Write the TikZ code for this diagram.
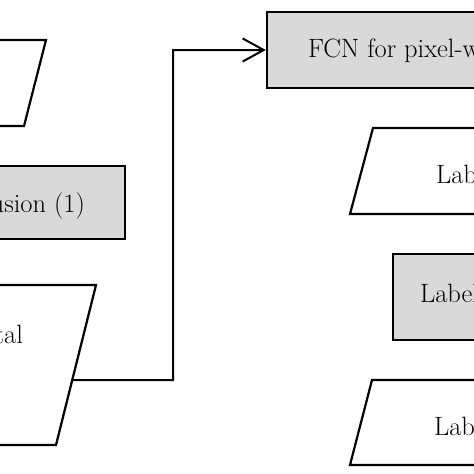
\documentclass[tikz,border=0pt]{standalone}
\usepackage{fontspec}
\setmainfont{Latin Modern Roman}
\usetikzlibrary{arrows.meta,calc}
\definecolor{boxgray}{RGB}{217,217,217}
\begin{document}
\begin{tikzpicture}[x=1pt,y=-1pt,
  txt/.style={font=\fontsize{26.5}{31}\selectfont, inner sep=0pt, outer sep=0pt},
  graybox/.style={rectangle, fill=boxgray, draw=black, line width=2.4pt, inner sep=0pt},
  para/.style={draw=black, fill=white, line width=2.2pt, line join=miter},
  conn/.style={draw=black, line width=2pt, -{Straight Barb[length=21pt,width=23pt]}}]
\useasboundingbox (0,0) rectangle (474,474);
\fill[white] (0,0) rectangle (474,474);
\begin{scope}
\clip (0,0) rectangle (474,474);
% top-left parallelogram
\coordinate (p1tl) at (-150,40);
\coordinate (p1tr) at (46,40);
\coordinate (p1br) at (24,126);
\coordinate (p1bl) at (-172,126);
\draw[para] (p1tl) -- (p1tr) -- (p1br) -- (p1bl) -- cycle;
% gray box (1)
\node[graybox, minimum width=325pt, minimum height=73pt] (b1) at (-37.5,202.5) {};
\node[txt, anchor=base east] (b1t) at (85,212) {Fusion (1)};
% lower-left parallelogram
\coordinate (p3tl) at (-200,285);
\coordinate (p3tr) at (96,285);
\coordinate (p3br) at (56,445);
\coordinate (p3bl) at (-240,445);
\draw[para] (p3tl) -- (p3tr) -- (p3br) -- (p3bl) -- cycle;
\node[txt, anchor=base east] (p3t) at (23,343) {Digital};
% FCN box
\node[graybox, minimum width=433pt, minimum height=76pt] (fcn) at (483.5,50) {};
\node[txt, anchor=base west] (fcnt) at (308,57) {FCN for pixel-wise classification};
% right parallelogram 1
\coordinate (p5tl) at (373,128);
\coordinate (p5tr) at (700,128);
\coordinate (p5br) at (677,214);
\coordinate (p5bl) at (350,214);
\draw[para] (p5tl) -- (p5tr) -- (p5br) -- (p5bl) -- cycle;
\node[txt, anchor=base west] (p5t) at (436,183) {Label};
% right gray box
\node[graybox, minimum width=307pt, minimum height=86pt] (b6) at (546.5,297) {};
\node[txt, anchor=base west] (b6t) at (420,302) {Label};
% right parallelogram 2
\coordinate (p7tl) at (372,380);
\coordinate (p7tr) at (700,380);
\coordinate (p7br) at (678,465);
\coordinate (p7bl) at (350,465);
\draw[para] (p7tl) -- (p7tr) -- (p7br) -- (p7bl) -- cycle;
\node[txt, anchor=base west] (p7t) at (434,435) {Label};
% connector
\coordinate (s) at ($(p3tr)!0.594!(p3br)$);
\coordinate (bend) at (173,380);
\draw[conn] (s) -- (bend) |- (fcn.west);
\end{scope}
\end{tikzpicture}
\end{document}
